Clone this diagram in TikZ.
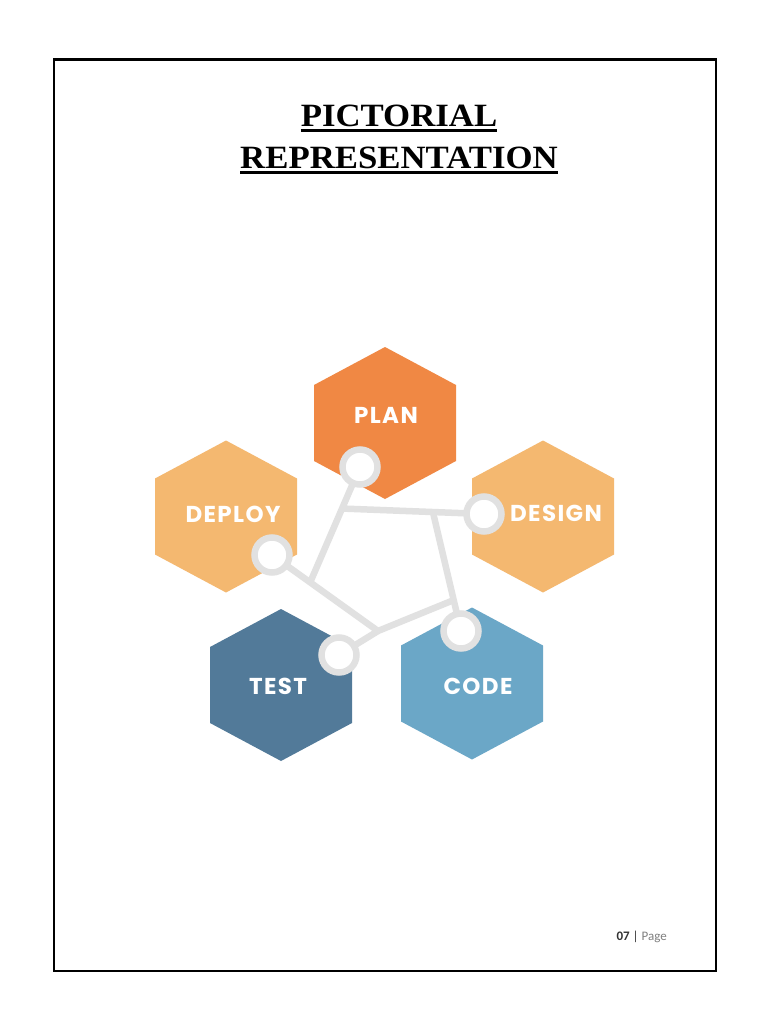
\documentclass[tikz,border=0pt]{standalone}
\usepackage{fontspec}
\setmainfont{Liberation Serif}
\newfontfamily\titlefont[FakeStretch=1.07]{Liberation Serif}
\newfontfamily\hexfont[LetterSpace=6]{Poppins}
\newfontfamily\footfont{Carlito}
\usetikzlibrary{calc}
\definecolor{planc}{HTML}{F08844}
\definecolor{lightor}{HTML}{F4B870}
\definecolor{testc}{HTML}{527A99}
\definecolor{codec}{HTML}{6BA7C7}
\definecolor{linkc}{HTML}{E1E1E1}
\definecolor{pagegray}{HTML}{7F7F7F}
\definecolor{pagedark}{HTML}{333333}
\tikzset{
  hexlabel/.style={text=white, font=\hexfont\bfseries\fontsize{23}{23}\selectfont, inner sep=0pt, anchor=center},
  link/.style={draw=linkc, line width=6.5pt},
  ring/.style={circle, draw=linkc, line width=6.5pt, fill=white, minimum size=35pt, inner sep=0pt},
  titletext/.style={font=\titlefont\bfseries\fontsize{32.5}{34}\selectfont, inner sep=0pt, anchor=base},
  uline/.style={line width=2.6pt, black}
}
\newcommand{\hexat}[3]{% center x, center y, colour
  \fill[#3] (#1,#2-76) -- (#1+71,#2-38) -- (#1+71,#2+38) -- (#1,#2+76) -- (#1-71,#2+38) -- (#1-71,#2-38) -- cycle;}
\begin{document}
\begin{tikzpicture}[x=1pt,y=-1pt]
\useasboundingbox (0,0) rectangle (768,1024);
\fill[white] (0,0) rectangle (768,1024);
% page frame
\draw[line width=2.4pt, black] (54,59.5) rectangle (716,971);
% title
\node[titletext] (t1) at (399,127) {PICTORIAL};
\node[titletext] (t2) at (399,169) {REPRESENTATION};
\draw[uline] ($(t1.base west)+(0,3.8)$) -- ($(t1.base east)+(0,3.8)$);
\draw[uline] ($(t2.base west)+(0,3.8)$) -- ($(t2.base east)+(0,3.8)$);
% hexagons
\hexat{385}{423}{planc}
\hexat{226}{516.5}{lightor}
\hexat{543}{516.5}{lightor}
\hexat{281}{685}{testc}
\hexat{472}{683.5}{codec}
% labels
\node[hexlabel] (plan) at (386,415) {PLAN};
\node[hexlabel] (deploy) at (233,514) {DEPLOY};
\node[hexlabel] (design) at (556,513) {DESIGN};
\node[hexlabel] (test) at (278,686) {TEST};
\node[hexlabel] (code) at (478,686) {CODE};
% ring positions
\coordinate (rplan) at (360,467);
\coordinate (rdesign) at (484,514);
\coordinate (rdeploy) at (272,555);
\coordinate (rtest) at (339,655);
\coordinate (rcode) at (461,631);
% junctions
\coordinate (j1) at ($(rdeploy)!0.36!(378,631)$);
\coordinate (j2) at (378,631);
\coordinate (j4) at ($(rplan)!0.36!(j1)$);
\coordinate (j5) at ($(j4)!0.64!(rdesign)$);
\coordinate (j3) at ($(j5)!0.74!(rcode)$);
% links
\draw[link] (rplan) -- (j1);
\draw[link] (rdeploy) -- (j2);
\draw[link] (j2) -- (rtest);
\draw[link] (j2) -- (j3);
\draw[link] (j4) -- (rdesign);
\draw[link] (j5) -- (rcode);
% rings
\node[ring] (cplan) at (rplan) {};
\node[ring] (cdesign) at (rdesign) {};
\node[ring] (cdeploy) at (rdeploy) {};
\node[ring] (ctest) at (rtest) {};
\node[ring] (ccode) at (rcode) {};
% footer
\node[anchor=base east, inner sep=0pt, font=\footfont\fontsize{13}{13}\selectfont] (foot) at (667,940) {\textcolor{pagedark}{\textbf{07}} \textcolor{pagedark}{|} \textcolor{pagegray}{Page}};
\end{tikzpicture}
\end{document}
